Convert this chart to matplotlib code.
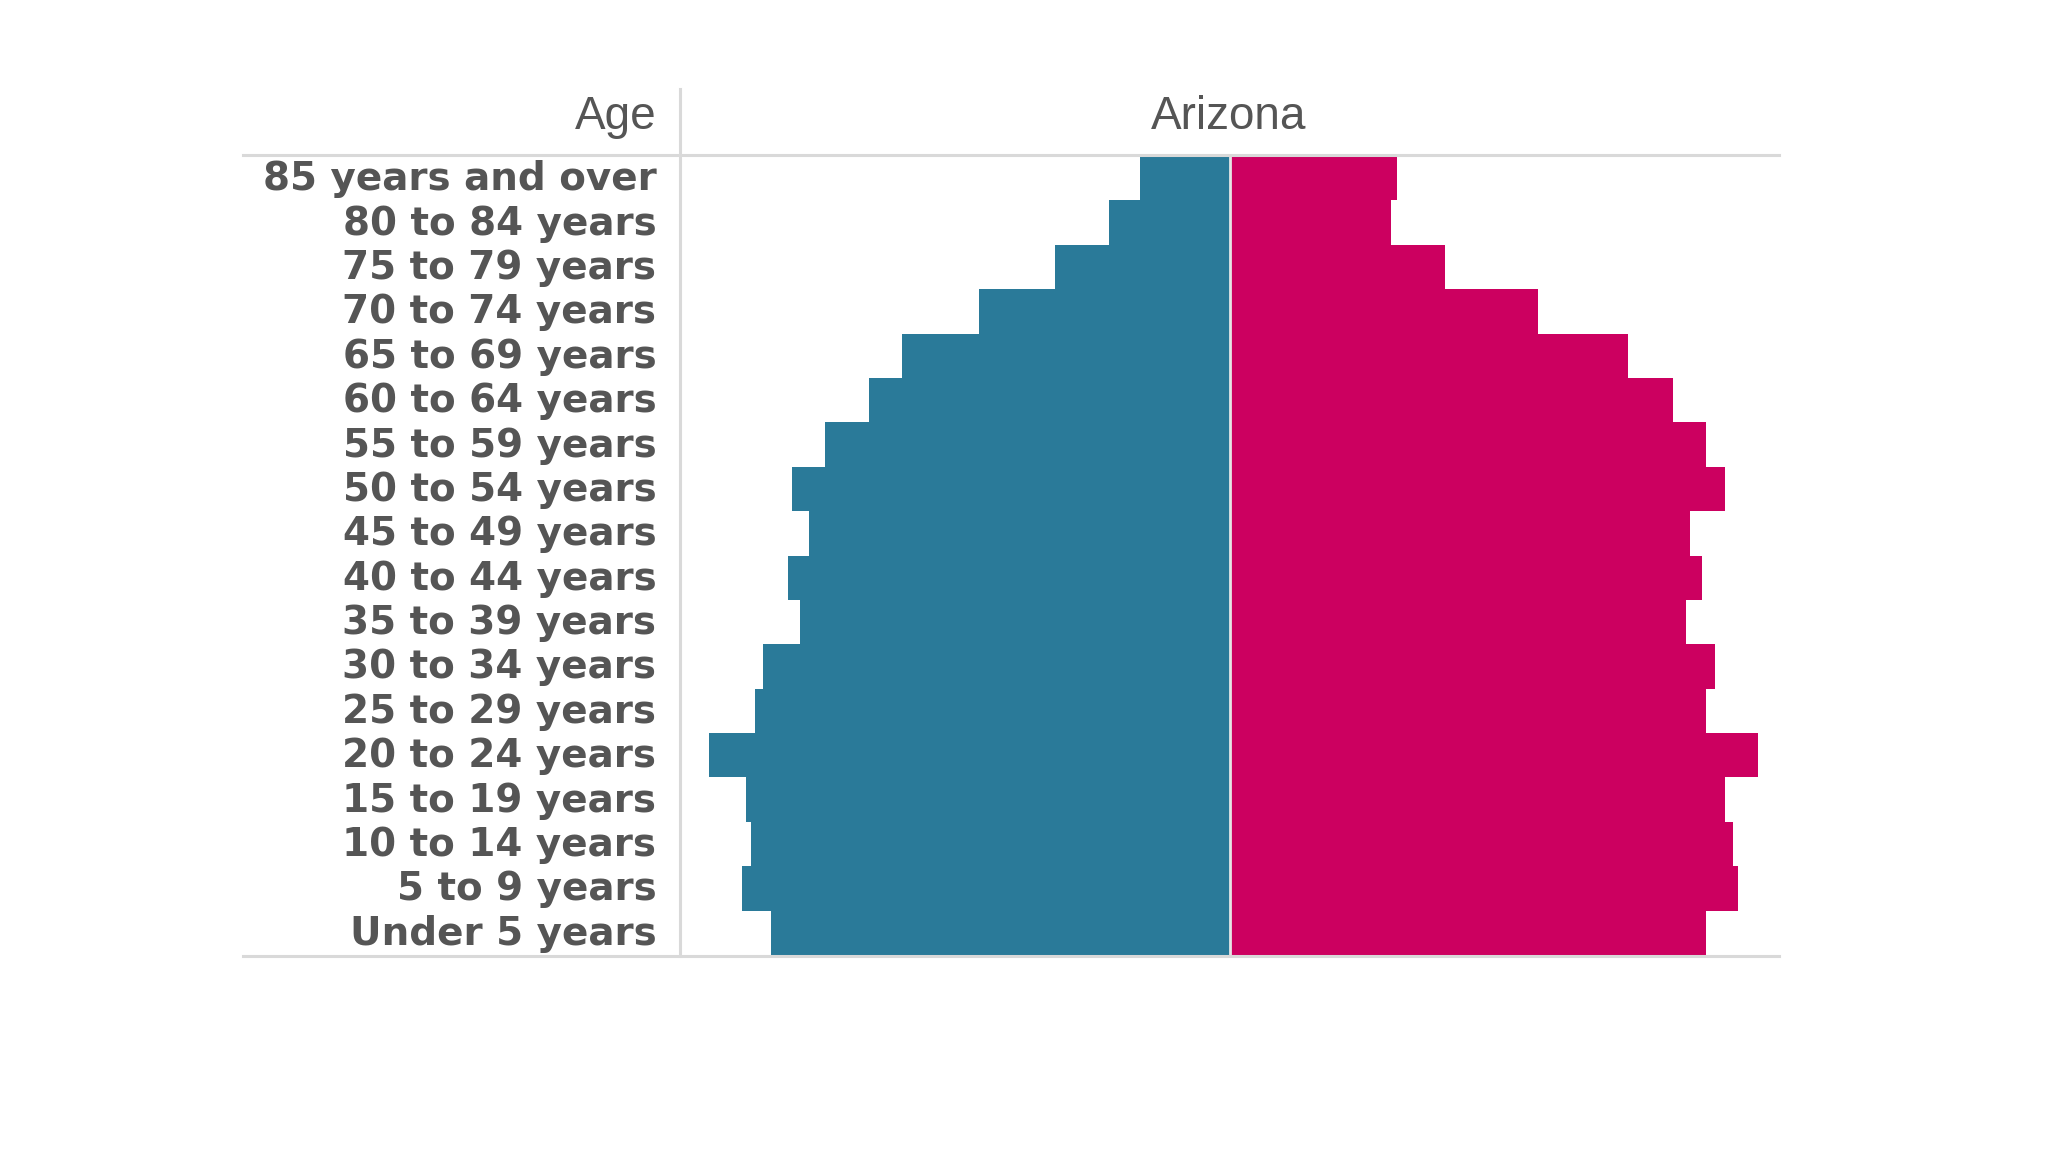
import matplotlib
matplotlib.use("Agg")
import matplotlib.pyplot as plt
import matplotlib.transforms as mtransforms
from matplotlib.lines import Line2D

age_groups = ["85 years and over", "80 to 84 years", "75 to 79 years", "70 to 74 years",
              "65 to 69 years", "60 to 64 years", "55 to 59 years", "50 to 54 years",
              "45 to 49 years", "40 to 44 years", "35 to 39 years", "30 to 34 years",
              "25 to 29 years", "20 to 24 years", "15 to 19 years", "10 to 14 years",
              "5 to 9 years", "Under 5 years"]
male = [43, 58, 84, 121, 158, 174, 195, 211, 203, 213, 207, 225, 229, 251, 233, 231, 235, 221]
female = [81, 78, 104, 149, 192, 214, 230, 239, 222, 228, 220, 234, 230, 255, 239, 243, 245, 230]

BLUE = "#2a7a99"
PINK = "#cc0060"
GRID = "#d9d9d9"
TEXT = "#555555"

W, H = 2048, 1152
fig = plt.figure(figsize=(W / 100, H / 100), dpi=100)
fig.patch.set_facecolor("white")

left, right = 680 / W, 1779 / W
top, bottom = 1 - 156 / H, 1 - 955 / H
ax = fig.add_axes([left, bottom, right - left, top - bottom])

y = list(range(len(age_groups)))
ax.barh(y, [-m for m in male], height=1.0, color=BLUE, linewidth=0)
ax.barh(y, female, height=1.0, color=PINK, linewidth=0)
ax.axvline(0, color="#e6e6e6", linewidth=2.0)

ax.set_xlim(-265, 265)
ax.set_ylim(len(age_groups) - 0.5, -0.5)
ax.set_xticks([])
ax.set_yticks(y)
ax.set_yticklabels(age_groups, fontsize=28, color=TEXT, fontweight="bold",
                   family=["DejaVu Sans"])
ax.tick_params(axis="y", length=0, pad=17)
offset = mtransforms.ScaledTranslation(0, 3 / 100, fig.dpi_scale_trans)
for lbl in ax.get_yticklabels():
    lbl.set_transform(lbl.get_transform() + offset)
for s in ax.spines.values():
    s.set_visible(False)

# frame lines
def hline(ypix, x0, x1):
    fig.add_artist(Line2D([x0 / W, x1 / W], [1 - ypix / H, 1 - ypix / H],
                          color=GRID, linewidth=2.2, transform=fig.transFigure))

hline(155, 243, 1779)
hline(956, 243, 1779)
fig.add_artist(Line2D([680 / W, 680 / W], [1 - 89 / H, 1 - 956 / H],
                      color=GRID, linewidth=2.2, transform=fig.transFigure))

fig.text(657 / W, 1 - 117 / H, "Age", ha="right", va="center", fontsize=33,
         color=TEXT, family=["Liberation Sans", "DejaVu Sans"])
fig.text(1229 / W, 1 - 117 / H, "Arizona", ha="center", va="center", fontsize=33,
         color=TEXT, family=["Liberation Sans", "DejaVu Sans"])

fig.savefig("out.png", dpi=100, facecolor="white")
